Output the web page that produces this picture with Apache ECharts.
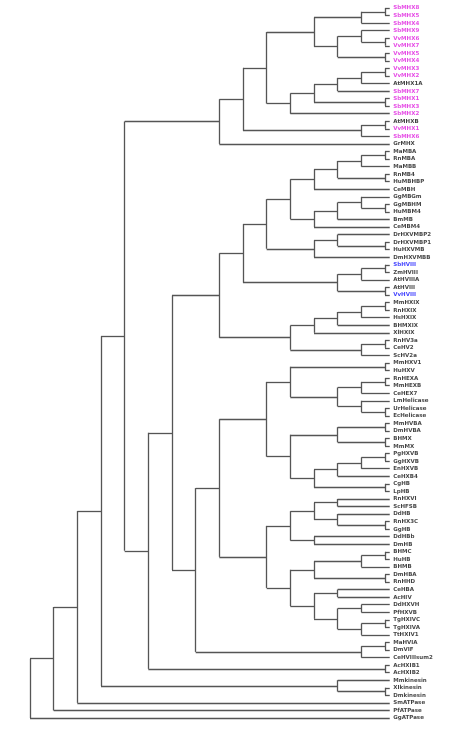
<!DOCTYPE html>
<html><head><meta charset="utf-8">
<script src="https://cdn.jsdelivr.net/npm/echarts@6/dist/echarts.min.js"></script>
<style>html,body{margin:0;padding:0;background:#fff}#c{width:474px;height:729px}</style>
</head><body><div id="c"></div>
<script>
// Leaves (top to bottom)
var leaves = ['SbMHX8','SbMHX5','SbMHX4','SbMHX9','VvMHX6','VvMHX7','VvMHX5','VvMHX4','VvMHX3','VvMHX2','AtMHX1A','SbMHX7','SbMHX1','SbMHX3','SbMHX2','AtMHXB','VvMHX1','SbMHX6','GrMHX',
'MaMBA','RnMBA','MaMBB','RnMB4','HuMBHBP','CeMBH','GgMBGm','GgMBHM','HuMBM4','BmMB','CeMBM4','DrHXVMBP2','DrHXVMBP1','HuHXVMB','DmHXVMBB','SbHVIII','ZmHVIII','AtHVIIIA','AtHVIII','VvHVIII',
'MmHXIX','RnHXIX','HsHXIX','BHMXIX','XlHXIX','RnHV3a','CeHV2','ScHV2a','MmHXV1','HuHXV','RnHEXA','MmHEXB','CeHEX7','LmHelicase','UrHelicase','EcHelicase','MmHVBA','DmHVBA','BHMX','MmMX',
'PgHXVB','GgHXVB','EnHXVB','CeHXB4','CgHB','LpHB','RnHXVI','ScHFSB','DdHB','RnHX3C','GgHB','DdHBb','DmHB','BHMC','HuHB','BHMB','DmHBA','RnHHD','CeHBA','AcHIV','DdHXVH','PfHXVB',
'TgHXIVC','TgHXIVA','TtHXIV1','MaHVIA','DmVIF','CeHVIIIsum2','AcHXIB1','AcHXIB2','Mmkinesin','XIkinesin','Dmkinesin','SmATPase','PfATPase','GgATPase'];
var pinkLeaves = ['SbMHX8','SbMHX5','SbMHX4','SbMHX9','VvMHX6','VvMHX7','VvMHX5','VvMHX4','VvMHX3','VvMHX2','SbMHX7','SbMHX1','SbMHX3','SbMHX2','VvMHX1','SbMHX6'];
var blueLeaves = ['SbHVIII','VvHVIII'];
// Tree: [level, child, child, ...]; strings are leaves
var nTop = [12,[14,[15,'SbMHX8','SbMHX5'],'SbMHX4'],[13,[14,'SbMHX9',[15,'VvMHX6','VvMHX7']],[15,'VvMHX5','VvMHX4']]];
var nMhx2 = [11,[12,[13,[14,[15,'VvMHX3','VvMHX2'],'AtMHX1A'],'SbMHX7'],[15,'SbMHX1','SbMHX3']],'SbMHX2'];
var cladeMHX = [8,[9,[10,nTop,nMhx2],[14,[15,'AtMHXB','VvMHX1'],'SbMHX6']],'GrMHX'];
var g1 = [12,[13,[14,[15,'MaMBA','RnMBA'],'MaMBB'],[15,'RnMB4','HuMBHBP']],'CeMBH'];
var g2 = [12,[13,[14,'GgMBGm',[15,'GgMBHM','HuMBM4']],'BmMB'],'CeMBM4'];
var g3 = [12,[13,'DrHXVMBP2',[15,'DrHXVMBP1','HuHXVMB']],'DmHXVMBB'];
var cladeHB = [8,[9,[10,[11,g1,g2],g3],[13,[14,[15,'SbHVIII','ZmHVIII'],'AtHVIIIA'],[15,'AtHVIII','VvHVIII']]],
  [11,[12,[13,[14,[15,'MmHXIX','RnHXIX'],'HsHXIX'],'BHMXIX'],'XlHXIX'],[14,[15,'RnHV3a','CeHV2'],'ScHV2a']]];
var gy = [11,[13,[15,'MmHVBA','DmHVBA'],[15,'BHMX','MmMX']],[12,[13,[14,[15,'PgHXVB','GgHXVB'],'EnHXVB'],'CeHXB4'],[15,'CgHB','LpHB']]];
var gx = [10,[11,[12,[13,'RnHXVI','ScHFSB'],[13,'DdHB',[15,'RnHX3C','GgHB']]],[12,'DdHBb','DmHB']],
  [11,[12,[14,[15,'BHMC','HuHB'],'BHMB'],[15,'DmHBA','RnHHD']],[12,[13,'CeHBA','AcHIV'],[13,[14,'DdHXVH','PfHXVB'],[14,[15,'TgHXIVC','TgHXIVA'],'TtHXIV1']]]]];
var cladeHX = [7,[8,[10,[11,[15,'MmHXV1','HuHXV'],[13,[14,[15,'RnHEXA','MmHEXB'],'CeHEX7'],[14,'LmHelicase',[15,'UrHelicase','EcHelicase']]]],gy],gx],
  [14,[15,'MaHVIA','DmVIF'],'CeHVIIIsum2']];
var tree = [0,[1,[2,[3,[4,cladeMHX,[5,[6,cladeHB,cladeHX],[15,'AcHXIB1','AcHXIB2']]],[13,'Mmkinesin',[15,'XIkinesin','Dmkinesin']]],'SmATPase'],'PfATPase'],'GgATPase'];

var LEAFX = 15.2;
var segs = [];
function walk(n){
  if (typeof n === 'string') return {x: LEAFX, y: leaves.indexOf(n)};
  var lv = n[0], ys = [];
  for (var i=1;i<n.length;i++){
    var r = walk(n[i]);
    segs.push([[lv, r.y],[r.x, r.y]]);
    ys.push(r.y);
  }
  var mn = Math.min.apply(null, ys), mx = Math.max.apply(null, ys);
  segs.push([[lv, mn],[lv, mx]]);
  return {x: lv, y: (mn+mx)/2};
}
walk(tree);

var chart = echarts.init(document.getElementById('c'));
chart.setOption({
  animation:false,
  grid:{left:30, right:89, top:8, bottom:11},
  xAxis:{type:'value', min:0, max:15, show:false},
  yAxis:{type:'value', min:0, max:leaves.length-1, inverse:true, show:false},
  series:[
    {type:'lines', coordinateSystem:'cartesian2d', silent:true, clip:false,
     symbol:['none','none'],
     lineStyle:{color:'#555', width:1.3, opacity:1},
     data: segs.map(function(s){return {coords:s};})},
    {type:'scatter', symbolSize:1, clip:false, itemStyle:{color:'rgba(0,0,0,0)'},
     data: leaves.map(function(n,i){
       var col = pinkLeaves.indexOf(n)>=0 ? '#e020e0' : (blueLeaves.indexOf(n)>=0 ? '#1010ff' : '#111');
       return {value:[LEAFX, i], name:n, label:{show:true, color:col}};
     }),
     labelLayout:{hideOverlap:false},
     label:{show:true, position:'right', distance:3, formatter:'{b}', fontSize:5.5, fontWeight:'bold', fontFamily:'DejaVu Sans'}}
  ]
});
</script></body></html>
